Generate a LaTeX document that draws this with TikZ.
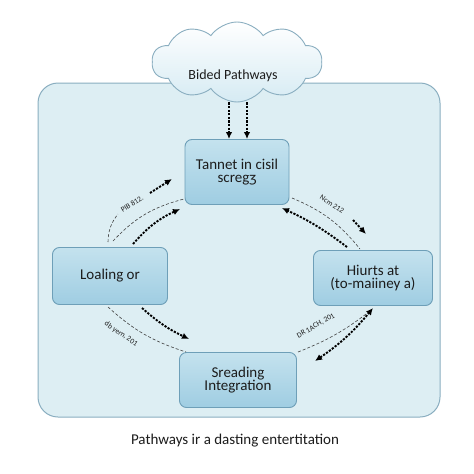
\documentclass[tikz,border=0pt]{standalone}
\usepackage{fontspec}
\setmainfont{Carlito}
\usetikzlibrary{shapes.symbols,arrows.meta,calc}
\definecolor{bgin}{HTML}{DDEEF3}
\definecolor{bgedge}{HTML}{8AAEC0}
\definecolor{boxtop}{HTML}{C4E2EE}
\definecolor{boxbot}{HTML}{9FCDE2}
\definecolor{boxedge}{HTML}{6E9FB8}
\definecolor{txt}{HTML}{1C1C1C}
\tikzset{
  stepbox/.style={draw=boxedge, line width=0.9pt, rounded corners=7pt, top color=boxtop, bottom color=boxbot, align=center, text=txt, font=\fontsize{15}{16}\selectfont},
  thinline/.style={densely dashed, line width=0.6pt, black!75},
  thickstroke/.style={dash pattern=on 2.2pt off 1.4pt, line width=1.9pt, black},
  thickline/.style={thickstroke, -{Latex[length=7pt,width=6.5pt]}},
  lbl/.style={font=\fontsize{7.5}{8}\selectfont, text=txt, inner sep=0.5pt}
}
\begin{document}
\begin{tikzpicture}[x=1pt,y=-1pt]
\useasboundingbox (0,0) rectangle (474,474);
\fill[white] (0,0) rectangle (474,474);
% outer panel
\node[draw=bgedge, line width=1pt, fill=bgin, rounded corners=20pt, minimum width=402pt, minimum height=334pt, inner sep=0pt] (panel) at (239,250) {};
% cloud
\node[cloud, cloud puffs=10, cloud puff arc=110, aspect=2.3, draw=bgedge, line width=0.9pt, top color=white, bottom color=boxtop!70, minimum width=170pt, minimum height=80pt, inner sep=0pt] (cloud) at (237,62) {};
\node[text=txt, font=\fontsize{14}{15}\selectfont] (cloudtxt) at (233,76) {Bided Pathways};
% boxes
\node[stepbox, minimum width=104pt, minimum height=65pt] (T) at (237,172) {Tannet in cisil\\[-3pt]scregȝ};
\node[stepbox, minimum width=115pt, minimum height=57pt] (L) at (110,276) {Loaling or};
\node[stepbox, minimum width=119pt, minimum height=55pt] (R) at (373,278) {Hiurts at\\[-3pt](to-maiiney a)};
\node[stepbox, minimum width=117pt, minimum height=55pt] (B) at (238,380) {Sreading\\[-3pt]Integration};
% free-end coordinates
\coordinate (c1a) at (108,242); \coordinate (c1b) at (118,214);
\coordinate (a1a) at (150,193); \coordinate (a1b) at (172,179);
\coordinate (c2a) at (113,241); \coordinate (c2b) at (184,199);
\coordinate (c3a) at (133,244); \coordinate (c3b) at (180,209);
\coordinate (c4a) at (292,198); \coordinate (c4b) at (360,249);
\coordinate (a2a) at (353,220); \coordinate (a2b) at (366,234);
\coordinate (c5a) at (347,247); \coordinate (c5b) at (282,208);
\coordinate (c6a) at (108,307); \coordinate (c6b) at (186,352);
\coordinate (c7a) at (142,308); \coordinate (c7b) at (189,339);
\coordinate (c8a) at (298,352); \coordinate (c8b) at (370,311);
\coordinate (c9a) at (315,361); \coordinate (c9b) at (373,308);
% cloud to top box
\draw[thickline] (cloud.south -| 229,0) -- (T.north -| 229,0);
\draw[thickline] (cloud.south -| 247,0) -- (T.north -| 247,0);
% top-left
\draw[thinline] (c1a) to[bend left=18] (c1b);
\node[lbl, rotate=32] (lb1) at (132,204) {PIB 812.};
\draw[thickline] (a1a) -- (a1b);
\draw[thinline] (c2a) to[bend left=16] (c2b);
\draw[thickline] (c3a) to[bend left=12] (c3b);
% top-right
\draw[thinline] (c4a) to[bend left=14] (c4b);
\node[lbl, rotate=-33] (lb2) at (332,204) {Ncm 212};
\draw[thickline] (a2a) -- (a2b);
\draw[thickline] (c5a) to[bend right=6] (c5b);
% bottom-left
\draw[thinline] (c6a) to[bend right=12] (c6b);
\node[lbl, rotate=-34] (lb3) at (121,334) {db yern, 201};
\draw[thickline] (c7a) to[bend right=8] (c7b);
% bottom-right
\draw[thinline] (c8a) to[bend right=8] (c8b);
\node[lbl, rotate=30] (lb4) at (316,326) {DR 1ACH, 201};
\draw[thickstroke, {Latex[length=7pt,width=6.5pt]}-{Latex[length=7pt,width=6.5pt]}] (c9a) to[bend right=8] (c9b);
% caption
\node[text=txt, font=\fontsize{15}{16}\selectfont] (cap) at (235,441) {Pathways ir a dasting entertitation};
\end{tikzpicture}
\end{document}
